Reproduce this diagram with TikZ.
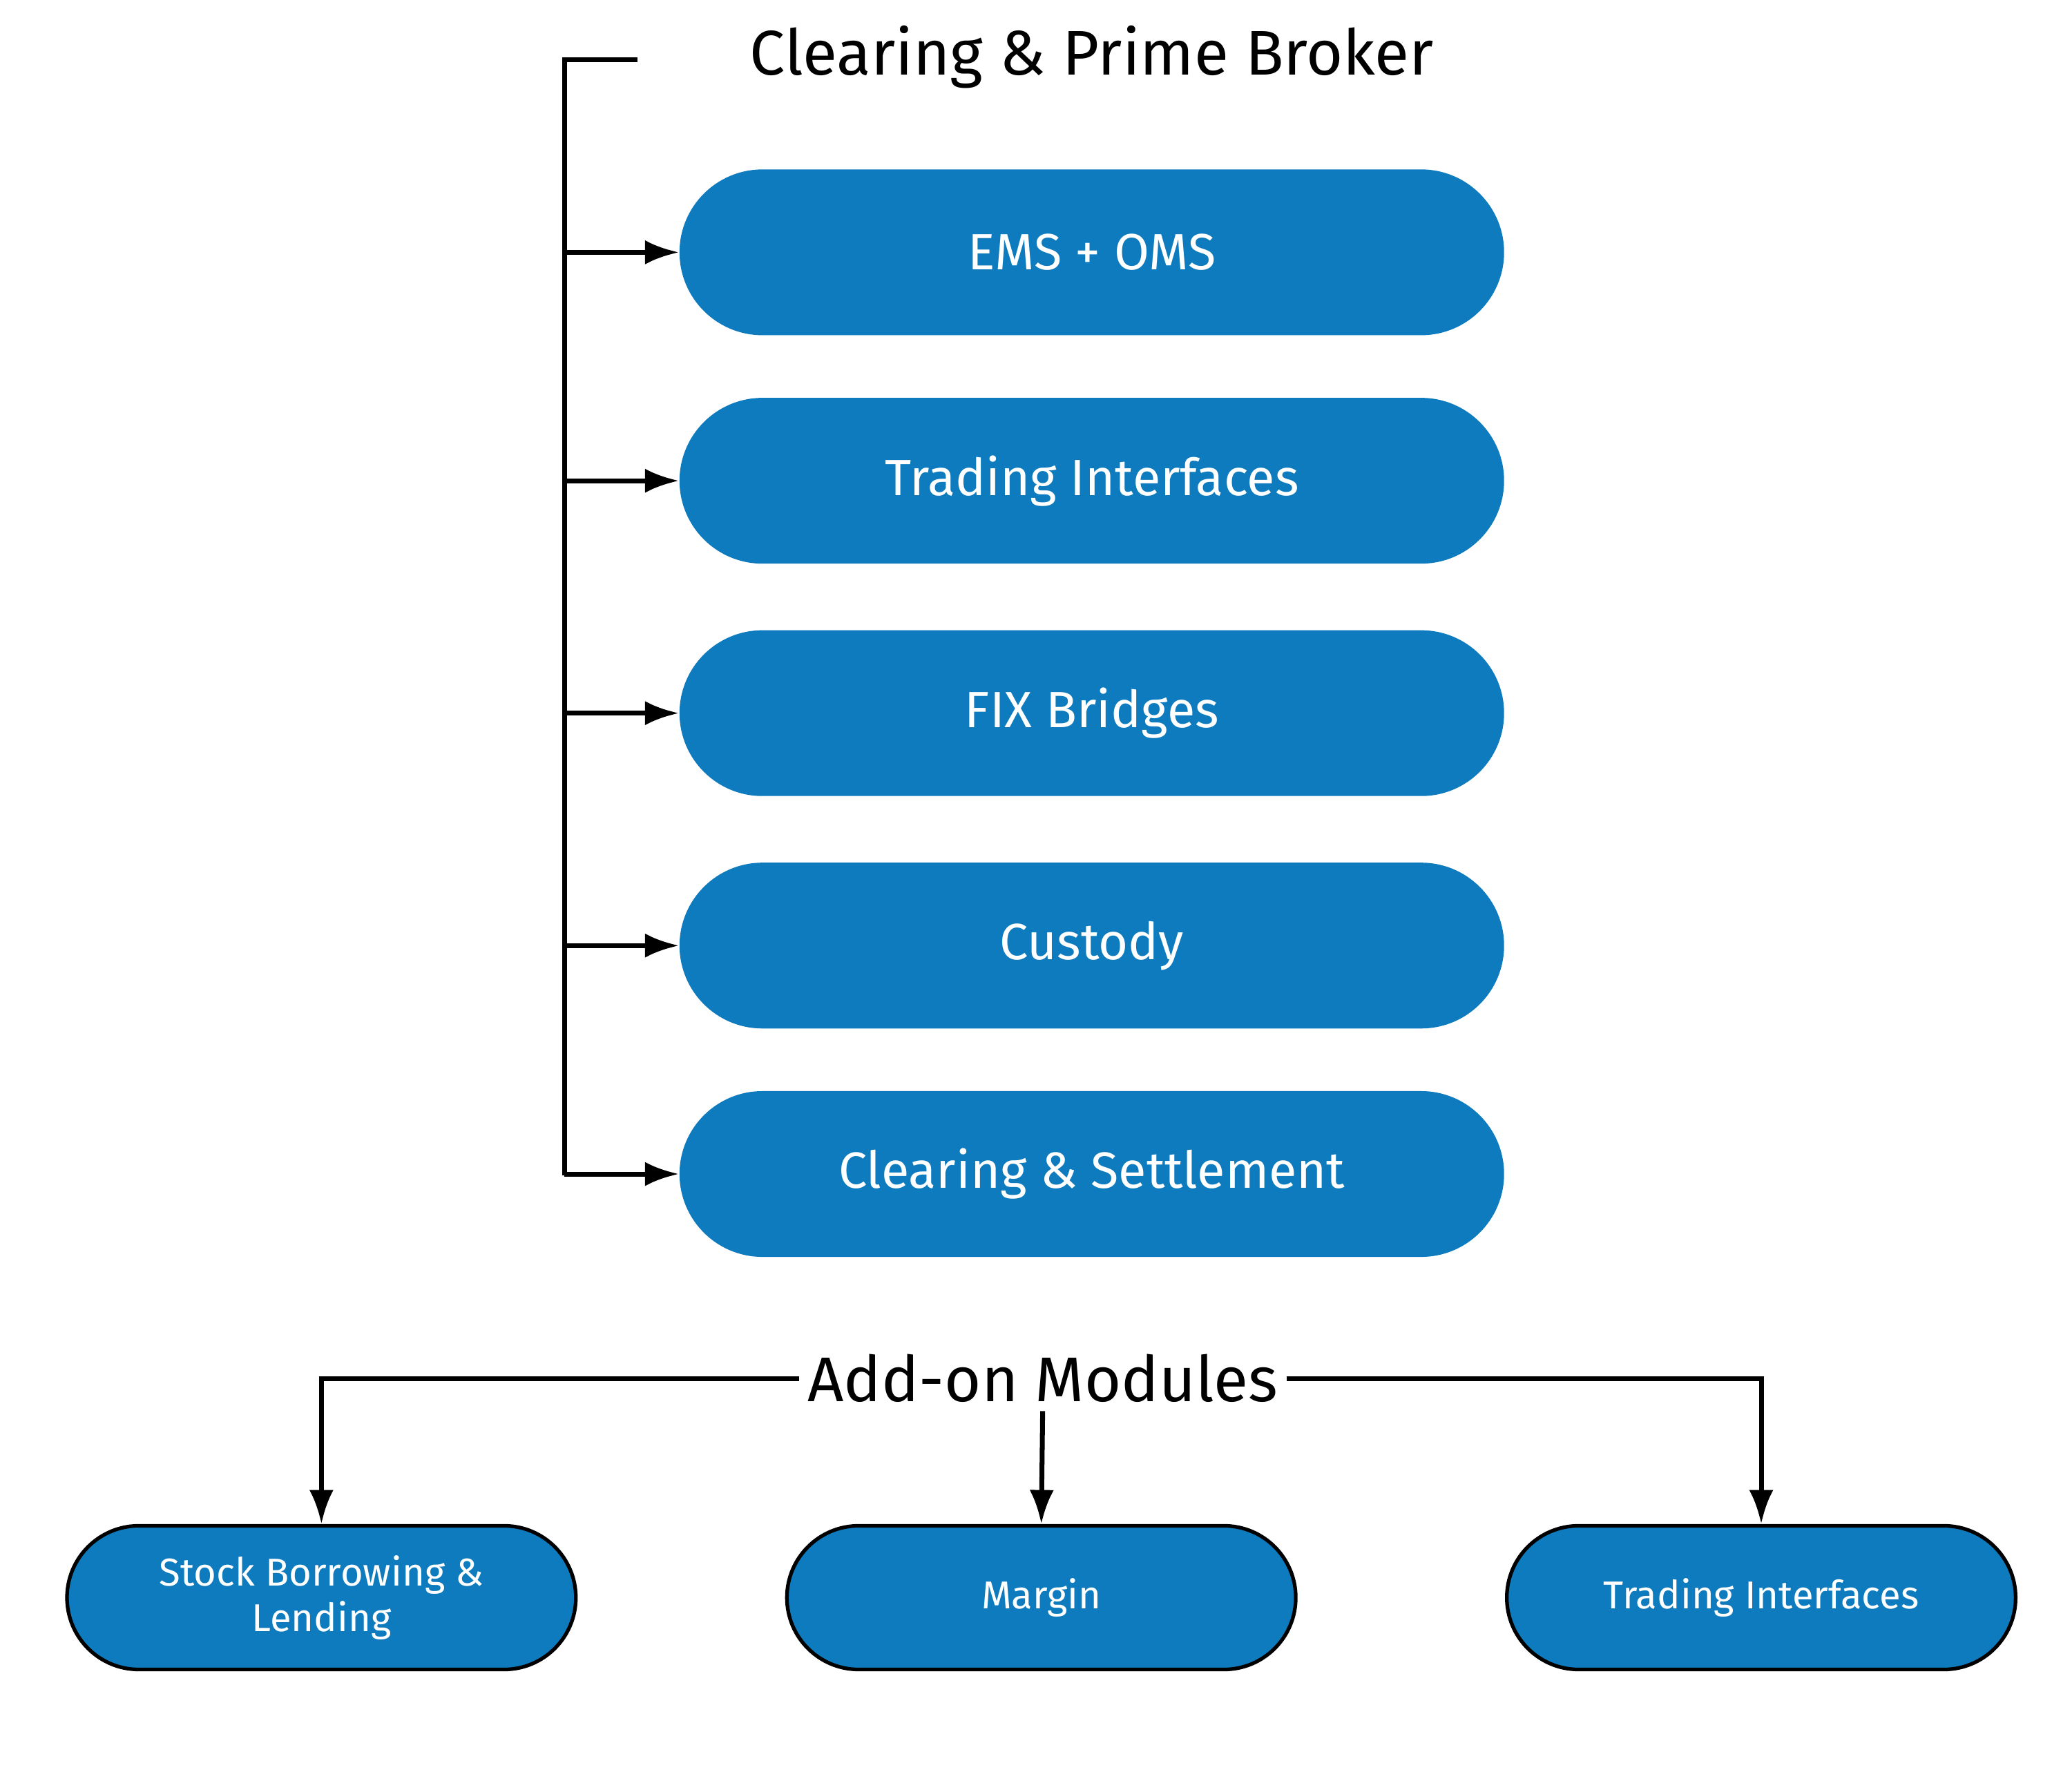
\documentclass[tikz,border=0pt]{standalone}
\usepackage{fontspec}
\setmainfont{Fira Sans}
\usetikzlibrary{arrows.meta, positioning, shapes.misc}
\definecolor{pillblue}{HTML}{0D7BBD}

\begin{document}
\begin{tikzpicture}[x=0.01923cm, y=-0.01923cm, >={Latex[length=14pt, width=10pt]},
    every node/.style={font=\sffamily},
    bigpill/.style={rounded rectangle, fill=pillblue, text=white,
      minimum width=12.17cm, minimum height=2.4cm, font=\fontsize{21}{25}\selectfont},
    smallpill/.style={rounded rectangle, fill=pillblue, draw=black, line width=1.5pt, text=white,
      minimum width=7.6cm, minimum height=2.08cm, align=center,
      font=\fontsize{16}{19}\selectfont},
    heading/.style={font=\fontsize{26}{30}\selectfont},
    link/.style={line width=2pt}]

    \useasboundingbox (0,0) rectangle (1560,1341);

    % Title and the main modules
    \node[heading] (title) at (822,43) {Clearing \& Prime Broker};
    \node[bigpill] (ems) at (822,190) {EMS + OMS};
    \node[bigpill] (trade) at (822,362) {Trading Interfaces};
    \node[bigpill] (fix) at (822,537) {FIX Bridges};
    \node[bigpill] (cust) at (822,712) {Custody};
    \node[bigpill] (clear) at (822,884) {Clearing \& Settlement};

    % Bracket on the left
    \coordinate (top) at (480,45);
    \coordinate (corner) at (425,45);
    \coordinate (bottom) at (425,885);
    \draw[link] (top) -- (corner) -- (bottom);
    \foreach \n in {ems, trade, fix, cust, clear}
        \draw[link, ->] (corner |- \n.west) -- (\n.west);

    % Add-on modules
    \node[heading] (addon) at (785,1038) {Add-on Modules};
    \node[smallpill] (sbl) at (242,1203) {Stock Borrowing \&\\Lending};
    \node[smallpill] (margin) at (784,1203) {Margin};
    \node[smallpill] (trade2) at (1326,1203) {Trading Interfaces};

    \draw[link, ->] (addon.west) -| (sbl.north);
    \draw[link, ->] (addon.east) -| (trade2.north);
    \draw[link, ->] (addon.south) -- (margin.north);

\end{tikzpicture}
\end{document}
